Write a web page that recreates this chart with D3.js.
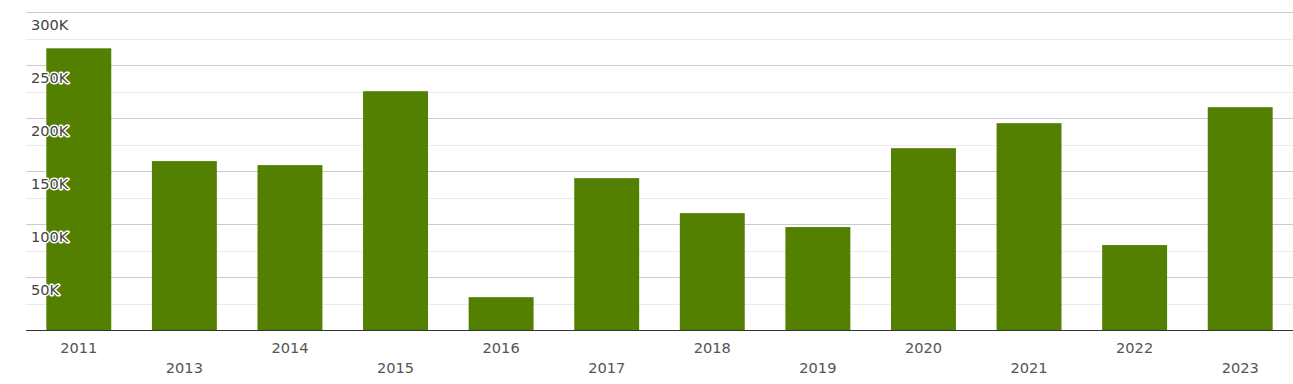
<!DOCTYPE html>
<html>
<head>
<meta charset="utf-8">
<script src="https://cdn.jsdelivr.net/npm/d3@7"></script>
<style>
  html, body { margin: 0; padding: 0; background: #fff; }
  svg { display: block; font-family: "DejaVu Sans", sans-serif; }
</style>
</head>
<body>
<div class="chart"></div>
<script>
const years = ["2011", "2013", "2014", "2015", "2016", "2017", "2018", "2019", "2020", "2021", "2022", "2023"]
const values = [266000, 159500, 155700, 225500, 31000, 143400, 110400, 97200, 171700, 195300, 80200, 210400]
const majorTicks = [50000, 100000, 150000, 200000, 250000, 300000]
const minorTicks = [25000, 75000, 125000, 175000, 225000, 275000]

const w = 1293
const h = 384
const padLeft = 26
const padTop = 12.3
const baseY = 330

const xScale = d3.scaleBand().domain(years).range([padLeft, w]).paddingInner(0.385).paddingOuter(0.1925)
const yScale = d3.scaleLinear().domain([0, 300000]).range([baseY, padTop])

const svg = d3.select(".chart").append("svg").attr("width", w).attr("height", h)

// minor grid
svg.append("g").selectAll("line")
    .data(minorTicks)
    .enter()
    .append("line")
    .attr("x1", padLeft).attr("x2", w)
    .attr("y1", d => Math.round(yScale(d)) + 0.5)
    .attr("y2", d => Math.round(yScale(d)) + 0.5)
    .attr("stroke", "#ebebeb")

// major grid
svg.append("g").selectAll("line")
    .data(majorTicks)
    .enter()
    .append("line")
    .attr("x1", padLeft).attr("x2", w)
    .attr("y1", d => Math.round(yScale(d)) + 0.5)
    .attr("y2", d => Math.round(yScale(d)) + 0.5)
    .attr("stroke", "#cccccc")

svg.append("g").selectAll("rect")
    .data(values)
    .enter()
    .append("rect")
    .attr("fill", "#548002")
    .attr("x", (d, i) => xScale(years[i]))
    .attr("width", xScale.bandwidth())
    .attr("y", d => yScale(d))
    .attr("height", d => yScale(0) - yScale(d))

// baseline
svg.append("line")
    .attr("x1", padLeft).attr("x2", w)
    .attr("y1", baseY + 0.5).attr("y2", baseY + 0.5)
    .attr("stroke", "#333")
    .attr("stroke-width", 1.2)

// y labels with white halo
const fmt = d => (d / 1000) + "K"
const yLabels = svg.append("g").selectAll("g")
    .data(majorTicks)
    .enter()
    .append("g")
yLabels.append("text")
    .text(fmt)
    .attr("x", 31)
    .attr("y", d => yScale(d) + 18)
    .attr("font-size", 14.6)
    .attr("fill", "none")
    .attr("stroke", "#fff")
    .attr("stroke-width", 3)
    .attr("stroke-linejoin", "round")
yLabels.append("text")
    .text(fmt)
    .attr("x", 31)
    .attr("y", d => yScale(d) + 18)
    .attr("font-size", 14.6)
    .attr("fill", "#444")

// x labels, staggered
svg.append("g").selectAll("text")
    .data(years)
    .enter()
    .append("text")
    .text(d => d)
    .attr("x", d => xScale(d) + xScale.bandwidth() / 2)
    .attr("y", (d, i) => i % 2 === 0 ? 353 : 373)
    .attr("text-anchor", "middle")
    .attr("font-size", 14.6)
    .attr("fill", "#555")
</script>
</body>
</html>
